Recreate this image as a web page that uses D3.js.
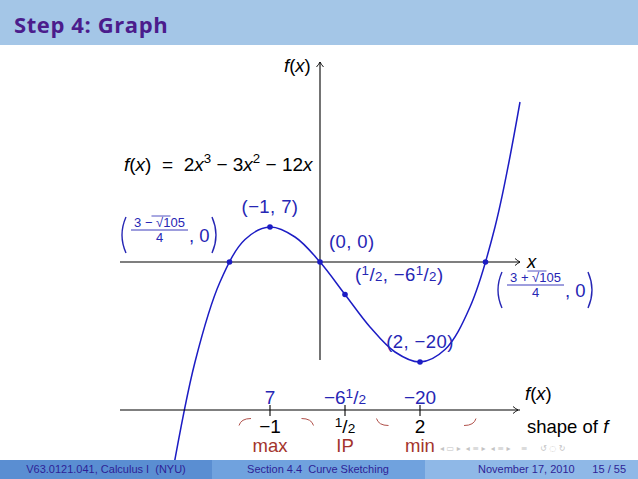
<!DOCTYPE html>
<html>
<head>
<meta charset="utf-8">
<script src="https://cdn.jsdelivr.net/npm/d3@7"></script>
<style>
  body { margin: 0; background: #fff; }
  svg { display: block; }
</style>
</head>
<body>
<svg id="slide" width="638" height="479"></svg>
<script>
// values
const curveX = [-3, -2.5, -2, -1.5, -1, -0.5, 0, 0.5, 1, 1.5, 2, 2.5, 3, 3.5, 4];
const curveY = [-45, -20, -4, 4.5, 7, 5, 0, -6.5, -13, -18, -20, -17.5, -9, 7, 32];
const pointX = [-1.81, -1, 0, 0.5, 2, 3.31];
const pointY = [0, 7, 0, -6.5, -20, 0];
const lineTicks = [-1, 0.5, 2];
const tickValues = ["7", "−6 1/2", "−20"];
const tickLabels = ["−1", "1/2", "2"];
const tickNames = ["max", "IP", "min"];
const shapeX = [-1.5, -0.25, 1.25, 3];
const shapeKind = ["incDown", "decDown", "decUp", "incUp"];

var svg = d3.select("#slide");
var blue = "#2626b4", curveBlue = "#1c1cc4", red = "#a3342c";
var mathFont = "'Liberation Sans', Arial, sans-serif";
var fs = 18.5;

// header band
svg.append("rect").attr("width", 638).attr("height", 45).attr("fill", "#a4c6e7");
svg.append("text").attr("x", 14).attr("y", 33)
  .attr("font-family", "'Open Sans', sans-serif").attr("font-weight", 700)
  .attr("font-size", 22).attr("letter-spacing", 0.6).attr("fill", "#4b1c8c").text("Step 4: Graph");

var x = d3.scaleLinear().domain([-4, 4]).range([120, 520]);
var y = d3.scaleLinear().domain([-20, 40]).range([362, 62]);

// small "to" arrow heads
function arrowHead(g, px, py, dir) {
  var p = dir == "right"
    ? "M" + (px - 5) + "," + (py - 3.5) + " Q" + (px - 2) + "," + (py - 1) + " " + px + "," + py +
      " Q" + (px - 2) + "," + (py + 1) + " " + (px - 5) + "," + (py + 3.5)
    : "M" + (px - 3.5) + "," + (py + 5) + " Q" + (px - 1) + "," + (py + 2) + " " + px + "," + py +
      " Q" + (px + 1) + "," + (py + 2) + " " + (px + 3.5) + "," + (py + 5);
  g.append("path").attr("d", p).attr("fill", "none").attr("stroke", "#000").attr("stroke-width", 0.9);
}

// axes
var g = svg.append("g");
g.append("line").attr("x1", x(-4)).attr("x2", x(4)).attr("y1", y(0)).attr("y2", y(0))
  .attr("stroke", "#000").attr("stroke-width", 1.1);
arrowHead(g, x(4), y(0), "right");
g.append("line").attr("x1", x(0)).attr("x2", x(0)).attr("y1", y(-19.6)).attr("y2", y(40))
  .attr("stroke", "#000").attr("stroke-width", 1.1);
arrowHead(g, x(0), y(40), "up");

// math text helper: parts are [text, kind]
function mathText(sel, parts, size) {
  parts.forEach(function (p) {
    var t = sel.append("tspan").text(p[0]);
    if (p[1] == "i") t.attr("font-style", "italic");
    if (p[1] == "sup") t.attr("font-size", size * 0.7).attr("dy", -size * 0.42);
    if (p[1] == "base") t.attr("dy", size * 0.42);
    if (p[1] == "fn") t.attr("font-size", size * 0.72).attr("dy", -size * 0.3);
    if (p[1] == "fs") t.attr("dy", size * 0.3);
    if (p[1] == "fd") t.attr("font-size", size * 0.72);
  });
  return sel;
}
// "1/2" style nicefracs inside a label
function fracParts(str) {
  var out = [];
  str.split(/ ?(\d\/\d)/).forEach(function (w) {
    if (!w) return;
    if (/^\d\/\d$/.test(w)) {
      out.push([w[0], "fn"]); out.push(["/", "fs"]); out.push([w[2], "fd"]);
    } else out.push([w, ""]);
  });
  return out;
}

g.append("text").attr("x", 124).attr("y", 171).attr("font-family", mathFont)
  .attr("font-size", 19).attr("fill", "#000").attr("xml:space", "preserve")
  .call(mathText, [["f", "i"], ["(", ""], ["x", "i"], [")  =  2", ""], ["x", "i"], ["3", "sup"],
    [" − 3", "base"], ["x", "i"], ["2", "sup"], [" − 12", "base"], ["x", "i"]], 19);

g.append("text").attr("x", 284).attr("y", 72).attr("font-family", mathFont)
  .attr("font-size", fs).call(mathText, [["f", "i"], ["(", ""], ["x", "i"], [")", ""]], fs);
g.append("text").attr("x", 527).attr("y", 268).attr("font-family", mathFont)
  .attr("font-size", fs).attr("font-style", "italic").text("x");

// the curve
var line = d3.line().x(d => x(d[0])).y(d => y(d[1])).curve(d3.curveCatmullRom.alpha(0.5));
g.append("path").datum(d3.zip(curveX, curveY)).attr("d", line)
  .attr("fill", "none").attr("stroke", curveBlue).attr("stroke-width", 1.5);

g.selectAll(".pt").data(d3.zip(pointX, pointY)).join("circle")
  .attr("cx", d => x(d[0])).attr("cy", d => y(d[1])).attr("r", 2.8).attr("fill", curveBlue);

// point labels
function label(px, py, anchor, parts) {
  g.append("text").attr("x", px).attr("y", py).attr("text-anchor", anchor)
    .attr("font-family", mathFont).attr("font-size", fs).attr("fill", blue)
    .attr("letter-spacing", 0.4).call(mathText, parts, fs);
}
label(x(-1), y(7) - 14, "middle", [["(−1, 7)", ""]]);
label(x(0) + 9, y(0) - 14, "start", [["(0, 0)", ""]]);
label(x(0.5) + 10, y(-6.5) - 14, "start", [["(", ""]].concat(fracParts("1/2, −6 1/2")).concat([[")", ""]]));
label(x(2), y(-20) - 14, "middle", [["(2, −20)", ""]]);

// root labels ( (3 ± sqrt105)/4 , 0 )
function rootLabel(left, midY, sign) {
  var r = g.append("g").attr("fill", blue).attr("font-family", mathFont);
  function paren(px, open) {
    var d = open
      ? "M" + (px + 5) + "," + (midY - 18) + " Q" + (px - 3) + "," + midY + " " + (px + 5) + "," + (midY + 18)
      : "M" + px + "," + (midY - 18) + " Q" + (px + 8) + "," + midY + " " + px + "," + (midY + 18);
    r.append("path").attr("d", d).attr("fill", "none").attr("stroke", blue).attr("stroke-width", 1.4);
  }
  paren(left, true);
  var fx = left + 10, fw = 57, cy = midY - 6;
  var num = r.append("text").attr("x", fx + fw / 2).attr("y", cy - 2).attr("text-anchor", "middle")
    .attr("font-size", 13).attr("xml:space", "preserve").text("3" + sign + "√105");
  var nn = num.node();
  var s = nn.getStartPositionOfChar(3).x, e = nn.getEndPositionOfChar(5).x;
  r.append("line").attr("x1", s - 1).attr("x2", e).attr("y1", cy - 13).attr("y2", cy - 13)
    .attr("stroke", blue).attr("stroke-width", 0.8);
  r.append("line").attr("x1", fx).attr("x2", fx + fw).attr("y1", cy + 1).attr("y2", cy + 1)
    .attr("stroke", blue).attr("stroke-width", 0.9);
  r.append("text").attr("x", fx + fw / 2).attr("y", cy + 13).attr("text-anchor", "middle")
    .attr("font-size", 13).text("4");
  r.append("text").attr("x", fx + fw + 1).attr("y", midY + 7).attr("font-size", fs).text(", 0");
  paren(fx + fw + 24, false);
}
rootLabel(121, 235, " − ");
rootLabel(497, 290, " + ");

// number line
var nl = 410;
var n = svg.append("g");
n.append("line").attr("x1", x(-4)).attr("x2", x(4)).attr("y1", nl).attr("y2", nl)
  .attr("stroke", "#000").attr("stroke-width", 1.1);
arrowHead(n, x(4) - 2, nl, "right");
n.selectAll(".tk").data(lineTicks).join("line")
  .attr("x1", d => x(d)).attr("x2", d => x(d)).attr("y1", nl - 5).attr("y2", nl + 6)
  .attr("stroke", "#000").attr("stroke-width", 1.1);
lineTicks.forEach(function (t, i) {
  n.append("text").attr("x", x(t)).attr("y", nl - 6).attr("text-anchor", "middle")
    .attr("font-family", mathFont).attr("font-size", 19).attr("fill", blue)
    .call(mathText, fracParts(tickValues[i]), 19);
  n.append("text").attr("x", x(t)).attr("y", nl + 23).attr("text-anchor", "middle")
    .attr("font-family", mathFont).attr("font-size", 19).attr("fill", "#000")
    .call(mathText, fracParts(tickLabels[i]), 19);
  n.append("text").attr("x", x(t)).attr("y", nl + 42).attr("text-anchor", "middle")
    .attr("font-family", mathFont).attr("font-size", fs).attr("fill", red).text(tickNames[i]);
});

// shape arcs
var cy = nl + 12;
var arcs = {
  incDown: (cx) => "M" + (cx - 6) + "," + (cy + 3.5) + " Q" + (cx - 4) + "," + (cy - 3.5) + " " + (cx + 6) + "," + (cy - 3.5),
  decDown: (cx) => "M" + (cx - 6) + "," + (cy - 3.5) + " Q" + (cx + 4) + "," + (cy - 3.5) + " " + (cx + 6) + "," + (cy + 3.5),
  decUp: (cx) => "M" + (cx - 6) + "," + (cy - 3.5) + " Q" + (cx - 4) + "," + (cy + 3.5) + " " + (cx + 6) + "," + (cy + 3.5),
  incUp: (cx) => "M" + (cx - 6) + "," + (cy + 3.5) + " Q" + (cx + 4) + "," + (cy + 3.5) + " " + (cx + 6) + "," + (cy - 3.5)
};
n.selectAll(".shape").data(d3.zip(shapeX, shapeKind)).join("path")
  .attr("d", d => arcs[d[1]](x(d[0]))).attr("fill", "none")
  .attr("stroke", "#b0504a").attr("stroke-width", 1);

n.append("text").attr("x", 525).attr("y", 400).attr("font-family", mathFont).attr("font-size", fs)
  .call(mathText, [["f", "i"], ["(", ""], ["x", "i"], [")", ""]], fs);
n.append("text").attr("x", 527).attr("y", 433).attr("font-family", mathFont).attr("font-size", fs)
  .call(mathText, [["shape of ", ""], ["f", "i"]], fs);

// beamer navigation symbols
svg.append("text").attr("x", 440).attr("y", 451).attr("font-family", "'DejaVu Sans', sans-serif")
  .attr("font-size", 8).attr("fill", "#c4c4c4").attr("xml:space", "preserve")
  .text("◂ ▭ ▸  ◂ ≡ ▸  ◂ ≡ ▸    ≡     ↺ ◌ ↻");

// footer
var foot = svg.append("g");
[[0, 212, "#5a8ed2"], [212, 213, "#70a2de"], [425, 213, "#8fb8e7"]].forEach(function (s) {
  foot.append("rect").attr("x", s[0]).attr("y", 460).attr("width", s[1]).attr("height", 19).attr("fill", s[2]);
});
function footText(px, anchor, str) {
  foot.append("text").attr("x", px).attr("y", 473).attr("text-anchor", anchor)
    .attr("font-family", mathFont).attr("font-size", 11).attr("fill", "#2e1f96")
    .attr("xml:space", "preserve").text(str);
}
footText(106, "middle", "V63.0121.041, Calculus I  (NYU)");
footText(318, "middle", "Section 4.4  Curve Sketching");
footText(478, "start", "November 17, 2010");
footText(626, "end", "15 / 55");
</script>
</body>
</html>
